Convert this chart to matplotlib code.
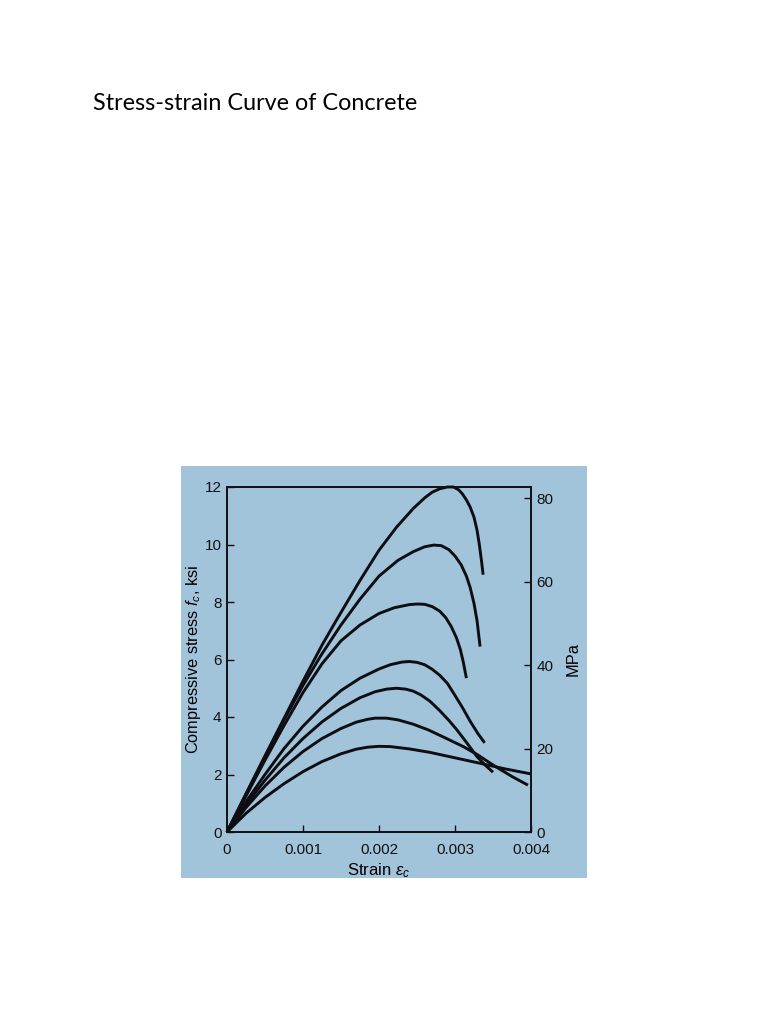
import matplotlib
matplotlib.use("Agg")
import matplotlib.pyplot as plt
from matplotlib.patches import Rectangle

plt.rcParams['font.family'] = ['Liberation Sans', 'DejaVu Sans']
plt.rcParams['mathtext.fontset'] = 'custom'
plt.rcParams['mathtext.rm'] = 'Liberation Sans'
plt.rcParams['mathtext.it'] = 'Liberation Sans:italic'

# strain in units of 0.001, stress in ksi
x12 = [0, 0.25, 0.5, 0.75, 1.0, 1.25, 1.44, 1.75, 2.0, 2.23, 2.45, 2.6, 2.7, 2.8, 2.9, 2.98, 3.05, 3.1, 3.15, 3.2, 3.25, 3.29, 3.32, 3.35, 3.37]
y12 = [0, 1.33, 2.65, 3.95, 5.25, 6.5, 7.37, 8.75, 9.8, 10.6, 11.25, 11.62, 11.82, 11.94, 12.0, 12.0, 11.9, 11.75, 11.55, 11.3, 10.95, 10.5, 10.0, 9.4, 8.95]

x10 = [0, 0.25, 0.5, 0.75, 1.0, 1.25, 1.5, 1.75, 2.0, 2.25, 2.45, 2.6, 2.72, 2.82, 2.92, 3.0, 3.08, 3.15, 3.2, 3.25, 3.29, 3.31, 3.33]
y10 = [0, 1.32, 2.62, 3.9, 5.1, 6.2, 7.2, 8.1, 8.9, 9.45, 9.75, 9.92, 9.98, 9.96, 9.82, 9.6, 9.3, 8.9, 8.5, 7.95, 7.35, 6.9, 6.45]

x8 = [0, 0.25, 0.5, 0.75, 1.0, 1.25, 1.5, 1.75, 2.0, 2.2, 2.4, 2.5, 2.6, 2.7, 2.8, 2.88, 2.95, 3.02, 3.07, 3.11, 3.15]
y8 = [0, 1.25, 2.5, 3.7, 4.85, 5.85, 6.65, 7.2, 7.6, 7.8, 7.91, 7.93, 7.92, 7.84, 7.68, 7.45, 7.15, 6.75, 6.35, 5.9, 5.35]

x6 = [0, 0.25, 0.5, 0.75, 1.0, 1.25, 1.5, 1.75, 2.0, 2.15, 2.3, 2.4, 2.5, 2.6, 2.7, 2.8, 2.9, 3.0, 3.1, 3.2, 3.3, 3.39]
y6 = [0, 1.05, 2.0, 2.9, 3.68, 4.35, 4.92, 5.35, 5.67, 5.82, 5.91, 5.93, 5.9, 5.82, 5.66, 5.45, 5.17, 4.75, 4.32, 3.85, 3.43, 3.1]

x5 = [0, 0.25, 0.5, 0.75, 1.0, 1.25, 1.5, 1.75, 1.95, 2.1, 2.23, 2.35, 2.45, 2.55, 2.67, 2.8, 2.92, 3.02, 3.15, 3.29, 3.4, 3.5]
y5 = [0, 0.95, 1.8, 2.58, 3.25, 3.83, 4.3, 4.67, 4.88, 4.97, 5.0, 4.97, 4.9, 4.77, 4.55, 4.22, 3.88, 3.57, 3.12, 2.62, 2.32, 2.08]

x4 = [0, 0.25, 0.5, 0.75, 1.0, 1.25, 1.5, 1.7, 1.85, 1.95, 2.1, 2.25, 2.45, 2.65, 2.85, 3.11, 3.3, 3.46, 3.6, 3.75, 3.96]
y4 = [0, 0.85, 1.6, 2.25, 2.8, 3.25, 3.6, 3.82, 3.92, 3.96, 3.96, 3.9, 3.75, 3.55, 3.3, 2.97, 2.68, 2.4, 2.17, 1.93, 1.63]

x3 = [0, 0.25, 0.5, 0.75, 1.0, 1.25, 1.5, 1.7, 1.85, 2.0, 2.15, 2.4, 2.67, 3.0, 3.33, 3.65, 4.0]
y3 = [0, 0.65, 1.2, 1.68, 2.1, 2.45, 2.72, 2.88, 2.95, 2.98, 2.97, 2.89, 2.77, 2.58, 2.39, 2.2, 2.02]

curves = [(x12, y12), (x10, y10), (x8, y8), (x6, y6), (x5, y5), (x4, y4), (x3, y3)]

xticks = [0, 0.001, 0.002, 0.003, 0.004]
xticklabels = ['0', '0.001', '0.002', '0.003', '0.004']
ksi_ticks = [0, 2, 4, 6, 8, 10, 12]
mpa_ticks = [0, 20, 40, 60, 80]
KSI_TO_MPA = 6.895

blue = '#a2c4db'

fig = plt.figure(figsize=(7.68, 10.24), dpi=100)
fig.patch.set_facecolor('white')

# title of the page
fig.text(93 / 768, 1 - 110 / 1024, 'Stress-strain Curve of Concrete',
         family=['Lato', 'DejaVu Sans'], fontsize=16.8, ha='left', va='baseline')

# blue panel behind the chart
fig.patches.append(Rectangle((181 / 768, 1 - 878 / 1024), 406 / 768, 412 / 1024,
                             transform=fig.transFigure, facecolor=blue,
                             edgecolor='none', zorder=-1))

ax = fig.add_axes([227 / 768, 1 - 832 / 1024, 304 / 768, 345 / 1024])
ax.set_facecolor(blue)
for xs, ys in curves:
    ax.plot([v / 1000 for v in xs], ys, color='#0d0d12', lw=2.1,
            solid_capstyle='butt', solid_joinstyle='round', clip_on=False)

ax.set_xlim(0, 0.004)
ax.set_ylim(0, 12)
ax.set_xticks(xticks)
ax.set_xticklabels(xticklabels)
ax.set_yticks(ksi_ticks)
ax.tick_params(direction='in', length=5, width=1, labelsize=11, pad=4, colors='#111111')
ax.tick_params(axis='x', pad=8)
ax.set_xlabel('Strain $\\epsilon_c$', fontsize=12, labelpad=3)
ax.set_ylabel('Compressive stress $f_c$, ksi', fontsize=11.8, labelpad=1)
for s in ax.spines.values():
    s.set_linewidth(1.2)
    s.set_color('#111111')

ax2 = ax.twinx()
ax2.set_ylim(0, 12 * KSI_TO_MPA)
ax2.set_yticks(mpa_ticks)
ax2.tick_params(direction='in', length=5, width=1, labelsize=11, pad=4, colors='#111111')
ax2.set_ylabel('MPa', fontsize=11.8, labelpad=9)
for s in ax2.spines.values():
    s.set_linewidth(1.2)
    s.set_color('#111111')

fig.savefig('out.png', dpi=100)
